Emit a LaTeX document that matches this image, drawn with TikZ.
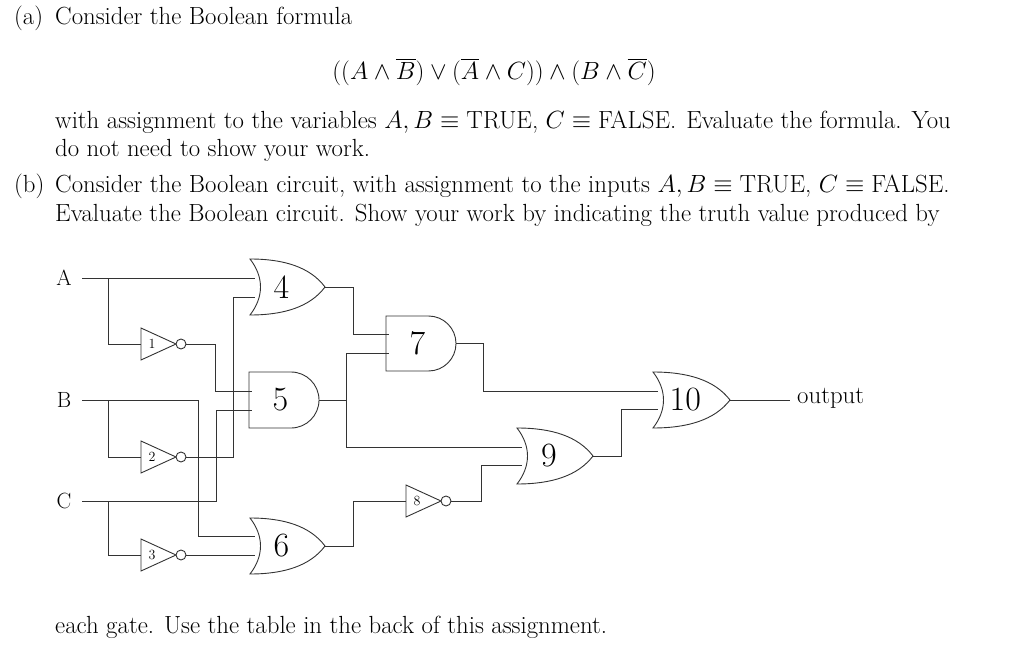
\documentclass[tikz,border=0pt]{standalone}
\usepackage{amsmath}
\tikzset{
  txt/.style={anchor=base west,inner sep=0pt,font=\fontsize{24.8}{28}\selectfont},
  gnum/.style={font=\fontsize{34}{36}\selectfont,inner sep=0pt},
  inum/.style={font=\fontsize{14}{16}\selectfont,inner sep=0pt},
  lab/.style={font=\fontsize{22}{24}\selectfont},
  wire/.style={draw=black!80,line width=0.9pt},
  gate/.style={draw=black!80,line width=0.9pt,fill=white}
}
% OR gate: name, left x, top y, bottom y, tip x, label
\newcommand\myor[6]{%
  \pgfmathsetmacro\cy{(#3+#4)/2}
  \draw[gate] (#2,#3) .. controls ({#2+0.45*(#5-#2)},#3) and ({#2+0.8*(#5-#2)},{#3+8}) .. (#5,\cy)
    .. controls ({#2+0.8*(#5-#2)},{#4-8}) and ({#2+0.45*(#5-#2)},#4) .. (#2,#4)
    .. controls ({#2+14},{\cy+10}) and ({#2+14},{\cy-10}) .. (#2,#3) -- cycle;
  \node[gnum] (#1) at ({#2+0.42*(#5-#2)},\cy) {#6};
  \coordinate (#1o) at (#5,\cy);}
% AND gate: name, left x, top, bottom, right-most x, label
\newcommand\myand[6]{%
  \pgfmathsetmacro\cy{(#3+#4)/2}
  \pgfmathsetmacro\rr{(#4-#3)/2}
  \pgfmathsetmacro\xs{#5-\rr}
  \draw[gate] (#2,#3) -- (\xs,#3)
    .. controls ({\xs+0.552*\rr},#3) and (#5,{\cy-0.552*\rr}) .. (#5,\cy)
    .. controls (#5,{\cy+0.552*\rr}) and ({\xs+0.552*\rr},#4) .. (\xs,#4)
    -- (#2,#4) -- cycle;
  \node[gnum] (#1) at ({#2+0.45*(#5-#2)},\cy) {#6};
  \coordinate (#1o) at (#5,\cy);}
% inverter: name, left x, y, label
\newcommand\myinv[4]{%
  \draw[gate] (#2,{#3-16}) -- ({#2+35},#3) -- (#2,{#3+16}) -- cycle;
  \draw[gate] ({#2+40},#3) circle[radius=5];
  \node[inum] (#1) at ({#2+11},#3) {#4};
  \coordinate (#1i) at (#2,#3);
  \coordinate (#1o) at ({#2+45},#3);}
\begin{document}
\begin{tikzpicture}[x=1pt,y=-1pt]
\useasboundingbox (0,0) rectangle (1029,666);
% text
\node[txt] (pa) at (14,25) {(a)};
\node[txt] (ta) at (55,25) {Consider the Boolean formula};
\node[font=\fontsize{24.8}{28}\selectfont] (f) at (494,72) {$((A\wedge\overline{B})\vee(\overline{A}\wedge C))\wedge(B\wedge\overline{C})$};
\node[txt] (t1) at (55,129) {with assignment to the variables $A,B\equiv\text{TRUE}$, $C\equiv\text{FALSE}$. Evaluate the formula. You};
\node[txt] (t2) at (55,157) {do not need to show your work.};
\node[txt] (pb) at (14,193) {(b)};
\node[txt] (tb) at (55,193) {Consider the Boolean circuit, with assignment to the inputs $A,B\equiv\text{TRUE}$, $C\equiv\text{FALSE}$.};
\node[txt] (t3) at (55,222) {Evaluate the Boolean circuit. Show your work by indicating the truth value produced by};
\node[txt] (t4) at (55,633) {each gate. Use the table in the back of this assignment.};
% inputs
\node[lab] (A) at (64,278) {A};
\node[lab] (B) at (64,400) {B};
\node[lab] (C) at (64,501) {C};
% gates
\myor{g4}{250}{259}{315}{325}{4}
\myand{g5}{249}{372}{428}{319}{5}
\myor{g6}{250}{518}{574}{325}{6}
\myand{g7}{386}{316}{371}{456}{7}
\myor{g9}{517}{428}{484}{593}{9}
\myor{g10}{653}{372}{428}{730}{10}
\myinv{n1}{141}{344}{1}
\myinv{n2}{141}{457}{2}
\myinv{n3}{141}{555}{3}
\myinv{n8}{406}{501}{8}
\coordinate (out) at (790,400);
\node[font=\fontsize{24.8}{28}\selectfont,anchor=west,inner sep=0pt] (outl) at (797,398) {output};
% wires
\draw[wire] (82,278) -- (255,278);
\draw[wire] (108,278) |- (n1i);
\draw[wire] (n1o) -| (215,391) -- (252,391);
\draw[wire] (82,400) -| (198,536) -- (255,536);
\draw[wire] (108,400) |- (n2i);
\draw[wire] (n2o) -| (233,297) -- (255,297);
\draw[wire] (82,501) -| (216,410) -- (252,410);
\draw[wire] (108,501) |- (n3i);
\draw[wire] (n3o) -- (255,555);
\draw[wire] (g4o) -| (353,334) -- (389,334);
\draw[wire] (g5o) -- (346,400);
\draw[wire] (346,353) -- (389,353);
\draw[wire] (346,353) -- (346,447) -- (522,447);
\draw[wire] (g6o) -| (353,501) -- (n8i);
\draw[wire] (n8o) -| (481,465) -- (522,465);
\draw[wire] (g7o) -| (483,391) -- (658,391);
\draw[wire] (g9o) -| (621,409) -- (658,409);
\draw[wire] (g10o) -- (out);
\end{tikzpicture}
\end{document}
